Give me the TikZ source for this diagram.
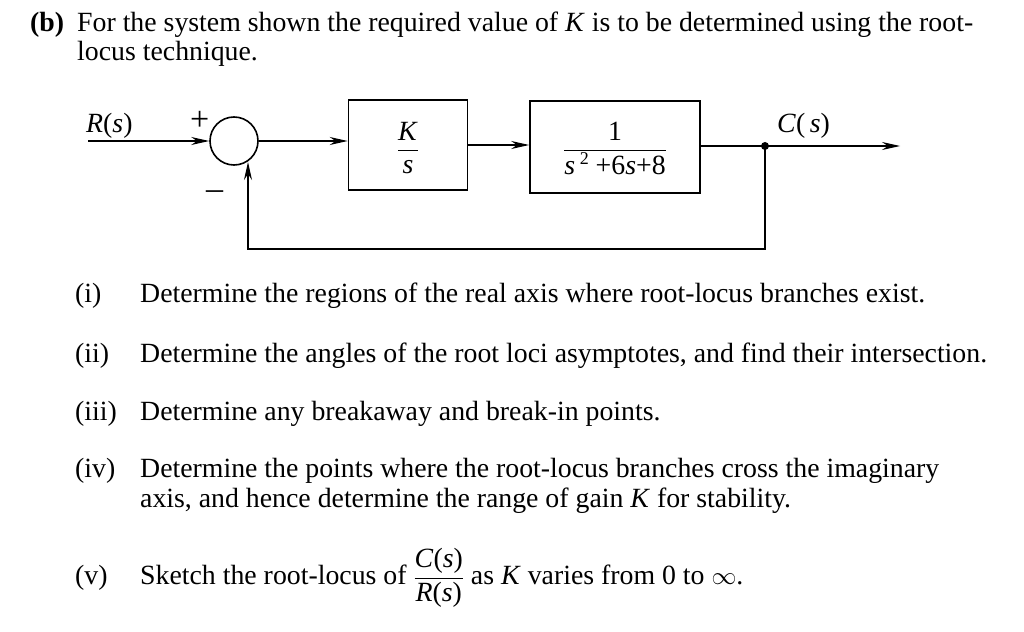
\documentclass[tikz,border=0pt]{standalone}
\usepackage{fontspec}
\setmainfont{Liberation Serif}
\usetikzlibrary{arrows.meta}
\newcommand{\tx}[1]{\mbox{#1}}
\begin{document}
\begin{tikzpicture}[x=1pt,y=-1pt,
  txt/.style={anchor=base west,inner sep=0,font=\fontsize{27.8}{30}\selectfont},
  blk/.style={draw,line width=1.6pt,minimum width=119pt,minimum height=90pt},
  sig/.style={line width=1.2pt,-{Stealth[length=18pt,width=8pt]}}]
\useasboundingbox (0,0) rectangle (1024,631);
\node[txt,font=\fontsize{27.8}{30}\selectfont\bfseries] (b) at (30,32) {(b)};
\node[txt] (l1) at (77,32) {For the system shown the required value of \textit{K} is to be determined using the root-};
\node[txt] (l2) at (77,61) {locus technique.};
\node[txt] (R) at (86,133) {\textit{R}(\textit{s})};
\node[txt,font=\fontsize{34}{36}\selectfont] (plus) at (190,131) {+};
\node[txt,font=\fontsize{34}{36}\selectfont] (minus) at (206,199) {--};
\node[draw,circle,line width=1.6pt,minimum size=48pt,inner sep=0] (sum) at (234,141) {};
\node[blk] (g1) at (408,145) {};
\node[blk,minimum width=170pt,minimum height=92pt] (g2) at (615,147) {};
\node[inner sep=0,font=\fontsize{27.8}{30}\selectfont] (kf) at (408,148) {$\displaystyle\frac{\tx{\textit{K}}}{\rule{0pt}{14pt}\tx{\textit{s}}}$};
\node[inner sep=0,font=\fontsize{27.8}{30}\selectfont] (gf) at (615,148) {$\displaystyle\frac{\tx{1}}{\rule{0pt}{16pt}\tx{\textit{s}\,\raisebox{10pt}{\fontsize{18}{18}\selectfont 2} +6\textit{s}+8}}$};
\node[txt] (C) at (777,133) {\textit{C}(\,\textit{s})};
\coordinate (rin) at (88,141);
\coordinate (cout) at (900,146);
\fill (765,146) circle (4pt) coordinate (tap);
\coordinate (fb) at (248,249);
\draw[sig] (rin) -- (sum.west);
\draw[sig] (sum.east) -- (g1.west|-sum.east);
\draw[sig] (g1.east|-145,145) -- (g2.west|-145,145);
\draw[sig] (g2.east|-146,146) -- (cout);
\draw[sig] (tap) -- (765,249) -- (fb) -- (248,162);
\node[txt] (i) at (75,302) {(i)};
\node[txt] (ti) at (140,302) {Determine the regions of the real axis where root-locus branches exist.};
\node[txt] (ii) at (75,362) {(ii)};
\node[txt] (tii) at (140,362) {Determine the angles of the root loci asymptotes, and find their intersection.};
\node[txt] (iii) at (75,420) {(iii)};
\node[txt] (tiii) at (140,420) {Determine any breakaway and break-in points.};
\node[txt] (iv) at (75,477) {(iv)};
\node[txt] (tiv) at (140,477) {Determine the points where the root-locus branches cross the imaginary};
\node[txt] (tiv2) at (140,507) {axis, and hence determine the range of gain \textit{K} for stability.};
\node[txt] (v) at (75,584) {(v)};
\node[txt] (tv) at (140,584) {Sketch the root-locus of $\displaystyle\frac{\tx{\textit{C}(\textit{s})}}{\tx{\textit{R}(\textit{s})}}$ as \textit{K} varies from 0 to $\infty$.};
\end{tikzpicture}
\end{document}
